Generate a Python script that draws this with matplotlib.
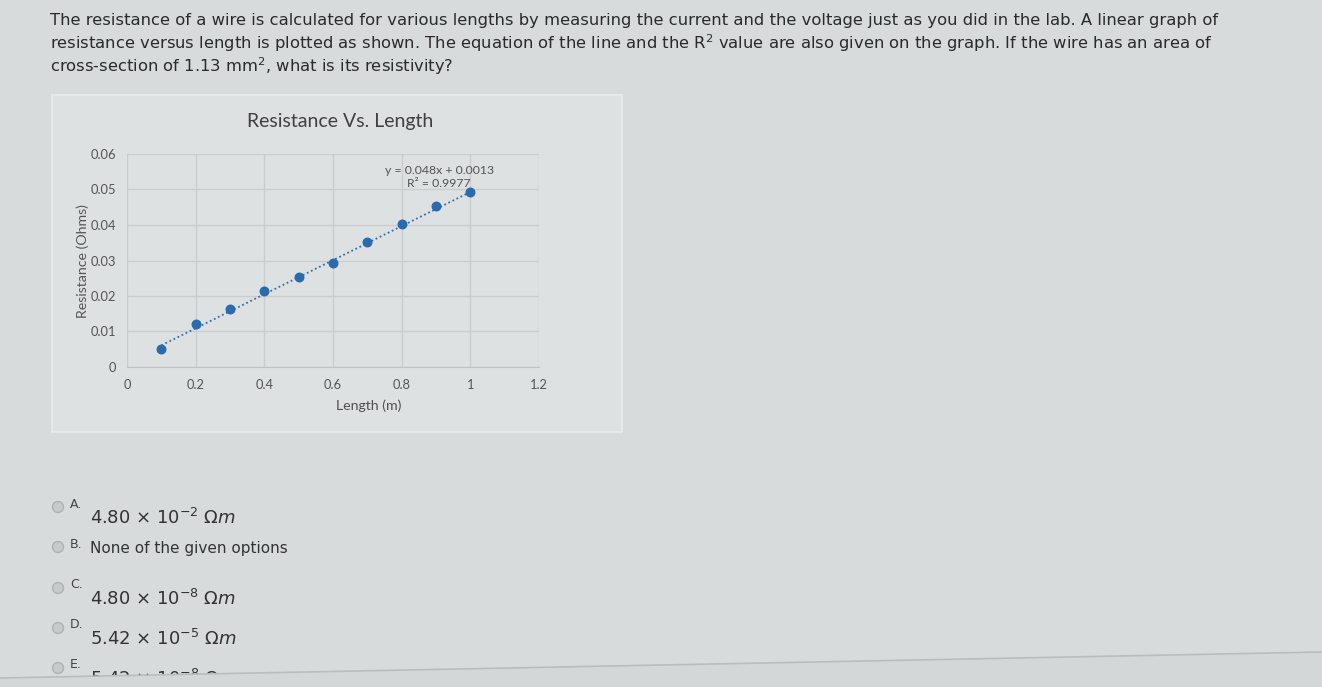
import matplotlib
matplotlib.use('Agg')
import matplotlib.pyplot as plt
from matplotlib.patches import Circle, Rectangle, Polygon

# data
length = [0.1, 0.2, 0.3, 0.4, 0.5, 0.6, 0.7, 0.8, 0.9, 1.0]
resistance = [0.0050, 0.0120, 0.0163, 0.0214, 0.0253, 0.0294, 0.0353, 0.0404, 0.0453, 0.0492]
fit_slope = 0.048
fit_icpt = 0.0013
r2 = 0.9977
x_ticks = [0, 0.2, 0.4, 0.6, 0.8, 1, 1.2]
y_ticks = [0, 0.01, 0.02, 0.03, 0.04, 0.05, 0.06]

question = [
    "The resistance of a wire is calculated for various lengths by measuring the current and the voltage just as you did in the lab. A linear graph of",
    r"resistance versus length is plotted as shown. The equation of the line and the R$^2$ value are also given on the graph. If the wire has an area of",
    r"cross-section of 1.13 mm$^2$, what is its resistivity?",
]
opt_letters = ['A.', 'B.', 'C.', 'D.', 'E.']
opt_texts = [
    r'4.80 $\times$ 10$^{-2}$ $\mathit{\Omega m}$',
    'None of the given options',
    r'4.80 $\times$ 10$^{-8}$ $\mathit{\Omega m}$',
    r'5.42 $\times$ 10$^{-5}$ $\mathit{\Omega m}$',
    r'5.42 $\times$ 10$^{-8}$ $\mathit{\Omega m}$',
]

W, H = 1322, 687
BG = '#d7dbdc'
PANEL = '#dde1e1'
fig = plt.figure(figsize=(W / 100, H / 100), dpi=100, facecolor=BG)

# page layer in pixel coords
page = fig.add_axes([0, 0, 1, 1])
page.set_xlim(0, W)
page.set_ylim(H, 0)
page.axis('off')

for i, line in enumerate(question):
    page.text(50, 20 + i * 23, line, fontsize=11.8, color='#2a2a2a',
              family='DejaVu Sans', va='center', ha='left')

# chart panel
page.add_patch(Rectangle((52, 95), 570, 337, facecolor=PANEL,
                         edgecolor='#e6e9e9', lw=1.5))
page.text(340, 121, 'Resistance Vs. Length', fontsize=14, color='#404040',
          family='Lato', ha='center', va='center')
page.text(369, 406, 'Length (m)', fontsize=10.2, color='#505050',
          family='Lato', ha='center', va='center')
page.text(83, 261, 'Resistance (Ohms)', fontsize=10.2, color='#555555',
          family='Lato', ha='center', va='center', rotation=90)

# options
ys = [507, 547, 588, 628, 668]
for y, let, txt in zip(ys, opt_letters, opt_texts):
    page.add_patch(Circle((58, y), 5.5, facecolor='#c6caca', edgecolor='#aeb2b2', lw=1))
    page.text(70, y - 3, let, fontsize=9, color='#444444', family='DejaVu Sans',
              ha='left', va='center')
    if let == 'B.':
        page.text(90, y + 2, txt, fontsize=11, color='#333333', family='DejaVu Sans',
                  ha='left', va='center')
    else:
        page.text(90, y + 11, txt, fontsize=13, color='#333333', family='DejaVu Sans',
                  ha='left', va='center')

# bottom edge of the screen cuts the last option
page.add_patch(Polygon([(0, 678), (W, 652), (W, H), (0, H)], closed=True,
                       facecolor='#d3d7d8', edgecolor='none', zorder=5))
page.plot([0, W], [678, 652], color='#b9bdbe', lw=1.2, zorder=6)

# chart axes
x0, x1, y0, y1 = 127, 539, 154, 367
ax = fig.add_axes([x0 / W, 1 - y1 / H, (x1 - x0) / W, (y1 - y0) / H])
ax.set_facecolor(PANEL)
ax.set_xlim(0, 1.2)
ax.set_ylim(0, 0.06)
ax.set_xticks(x_ticks)
ax.set_yticks(y_ticks)
ax.set_xticklabels(['0', '0.2', '0.4', '0.6', '0.8', '1', '1.2'])
ax.set_yticklabels(['0', '0.01', '0.02', '0.03', '0.04', '0.05', '0.06'])
ax.grid(True, color='#c9cdcd', lw=1)
ax.set_axisbelow(True)
for s in ['top', 'right', 'left']:
    ax.spines[s].set_visible(False)
ax.spines['bottom'].set_color('#bfc3c3')
ax.tick_params(length=0, labelsize=9.3, labelcolor='#555555')
ax.tick_params(axis='y', pad=8)
ax.tick_params(axis='x', pad=9)
for lab in ax.get_xticklabels() + ax.get_yticklabels():
    lab.set_family('Lato')

fx = [min(length), max(length)]
ax.plot(fx, [fit_slope * v + fit_icpt for v in fx], ls=(0, (1, 1.5)),
        color='#2e6fb0', lw=1.3)
ax.scatter(length, resistance, s=38, color='#2a6bb0', zorder=3)
ax.text(0.909, 0.0535, 'y = 0.048x + 0.0013\nR² = %.4f' % r2, fontsize=8.8,
        color='#555555', family='Lato', ha='center', va='center', linespacing=1.2)

fig.savefig('out.png', dpi=100, facecolor=BG)
